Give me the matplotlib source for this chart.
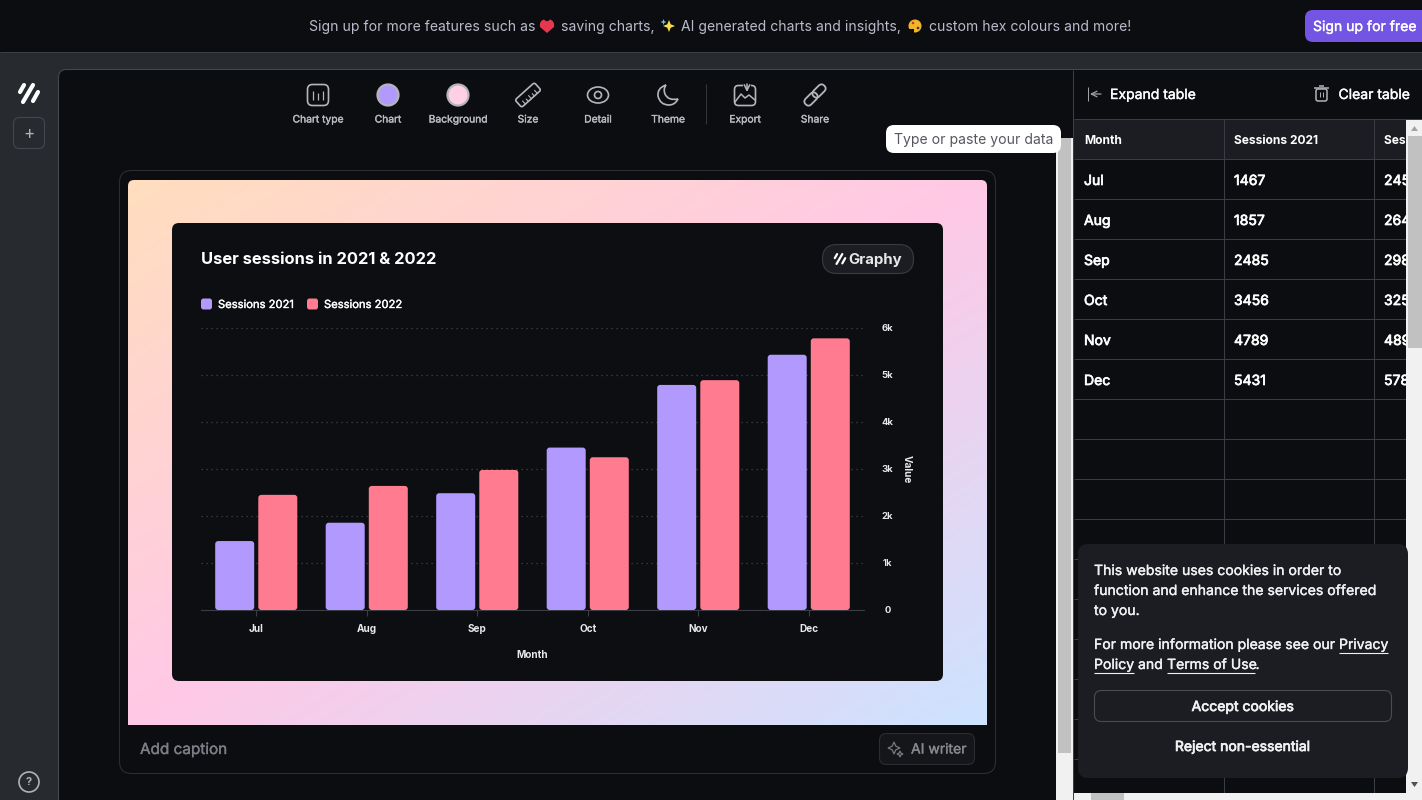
import numpy as np
import matplotlib
matplotlib.use('Agg')
import matplotlib.pyplot as plt
import matplotlib.patheffects as pe
from matplotlib.patches import FancyBboxPatch, Circle, Ellipse, Polygon, Rectangle, PathPatch
from matplotlib.path import Path
from matplotlib.transforms import Affine2D, ScaledTranslation

plt.rcParams['font.family'] = ['Inter', 'DejaVu Sans']

# chart data
months = ['Jul', 'Aug', 'Sep', 'Oct', 'Nov', 'Dec']
sessions_2021 = [1467, 1857, 2485, 3456, 4789, 5431]
sessions_2022 = [2450, 2640, 2980, 3250, 4890, 5780]
ytick_vals = [0, 1000, 2000, 3000, 4000, 5000, 6000]
ytick_labels = ['0', '1k', '2k', '3k', '4k', '5k', '6k']
toolbar_items = ['Chart type', 'Chart', 'Background', 'Size', 'Detail', 'Theme', 'Export', 'Share']
toolbar_x = [318, 388, 458, 528, 598, 668, 745, 815]

BG = '#0c0d11'
SIDE = '#272a2f'
PANEL = '#1c1d22'
LINE = '#3a3d43'
PURPLE = '#b299fe'
PINK = '#ff7b8f'

fig = plt.figure(figsize=(14.22, 8), dpi=100, facecolor=BG)
ui = fig.add_axes([0, 0, 1, 1], zorder=1)
ui.set_xlim(0, 1422)
ui.set_ylim(800, 0)
ui.axis('off')


def px(size):
    return size*0.72


def rr(x0, y0, x1, y1, r, fc='none', ec='none', lw=0.8, z=2):
    p = FancyBboxPatch((x0, y0), x1-x0, y1-y0, boxstyle='round,pad=0,rounding_size=%g' % r,
                       fc=fc, ec=ec, lw=lw, zorder=z)
    ui.add_patch(p)
    return p


def txt(x, y, s, size=14, color='white', weight='normal', ha='left', z=6, **kw):
    # only regular and bold exist, so the in-between weights get a thin stroke
    stroke = {'medium': 0.25, 'semibold': 0.5}.get(weight)
    t = ui.text(x, y+2, s, fontsize=px(size), color=color, fontweight='normal' if stroke else weight,
                ha=ha, va='center', zorder=z, **kw)
    if stroke:
        t.set_path_effects([pe.withStroke(linewidth=stroke, foreground=color)])
    return t


def hline(x0, x1, y, color=LINE, lw=0.72, z=3):
    ui.plot([x0, x1], [y, y], color=color, lw=lw, zorder=z, solid_capstyle='butt')


def vline(x, y0, y1, color=LINE, lw=0.72, z=3):
    ui.plot([x, x], [y0, y1], color=color, lw=lw, zorder=z, solid_capstyle='butt')


def logo(cx, cy, s, lw, color='white', z=6):
    for x0, y0, x1, y1 in ((-9, -1.5, -5, -8.5), (-6, 8.5, 4, -8.5), (4, 7.5, 9, -1.5)):
        ui.plot([cx+x0*s, cx+x1*s], [cy+y0*s, cy+y1*s], color=color, lw=lw, solid_capstyle='round', zorder=z)


# page shell
ui.add_patch(Rectangle((0, 52), 1422, 748, fc=SIDE, ec='none', zorder=0))
hline(0, 1422, 52, color='#3c3f45')
rr(58.5, 69.5, 1500, 900, 8, fc=BG, ec='#44474d', z=1)

# banner
bc = '#b9bbcb'
txt(309, 25, 'Sign up for more features such as', 14, bc)
txt(561, 25, 'saving charts,', 14, bc)
txt(681, 25, 'AI generated charts and insights,', 14, bc)
txt(929, 25, 'custom hex colours and more!', 14, bc)
heart = Path([(547, 33), (540, 27), (539, 21), (544, 19.5), (547, 23), (550, 19.5), (555, 21), (554, 27), (547, 33)],
             [Path.MOVETO, Path.LINETO, Path.CURVE3, Path.CURVE3, Path.CURVE3, Path.CURVE3, Path.CURVE3, Path.LINETO, Path.LINETO])
ui.add_patch(PathPatch(heart, fc='#e5384f', ec='none', zorder=5))
ui.add_patch(Polygon([(669, 20), (670.7, 24.3), (675, 26), (670.7, 27.7), (669, 32), (667.3, 27.7), (663, 26), (667.3, 24.3)],
                     fc='#f7e04a', ec='none', zorder=5))
ui.add_patch(Polygon([(663.5, 19), (664.3, 21.2), (666.5, 22), (664.3, 22.8), (663.5, 25), (662.7, 22.8), (660.5, 22), (662.7, 21.2)],
                     fc='#6fc4e8', ec='none', zorder=5))
ui.add_patch(Circle((915, 26), 6.5, fc='#f2b52a', ec='none', zorder=5))
ui.add_patch(Rectangle((909, 29), 5, 4, fc=BG, ec='none', zorder=5))
ui.add_patch(Circle((913, 23), 1.3, fc='#c9382c', ec='none', zorder=6))
ui.add_patch(Circle((918, 28), 1.3, fc='#3a3a3a', ec='none', zorder=6))
rr(1305, 10, 1440, 42, 8, fc='#7256e3', z=3)
txt(1313, 25, 'Sign up for free', 14, 'white', 'medium')

# sidebar
logo(29, 93.5, 1, 3)
rr(13.5, 117.5, 44.5, 148.5, 6, ec='#44474d')
txt(29, 132, '+', 17, '#b0b2b8', ha='center')
ui.add_patch(Circle((29, 782), 10, fc='none', ec='#b0b2b8', lw=1.2, zorder=4))
txt(29, 780, '?', 11, '#b0b2b8', 'bold', ha='center')

# toolbar
ic = '#b4b6bc'
for name, x in zip(toolbar_items, toolbar_x):
    txt(x, 117.5, name, 10.3, '#b8bac0', 'medium', ha='center')
rr(307.5, 84.5, 328.5, 105.5, 5, ec=ic, lw=1.2)
for bx, y0 in zip((313, 318, 323), (91, 93, 91)):
    vline(bx, y0, 100, color=ic, lw=0.9)
ui.add_patch(Circle((388, 95), 10.5, fc=PURPLE, ec=ic, lw=1.6, zorder=4))
ui.add_patch(Circle((458, 95), 10.5, fc='#ffcfe6', ec=ic, lw=1.6, zorder=4))
rot = Affine2D().rotate_deg_around(528, 95, -42)+ui.transData
ruler = FancyBboxPatch((515, 90), 26, 10, boxstyle='round,pad=0,rounding_size=2', fc='none', ec=ic, lw=1.2, zorder=4)
ruler.set_transform(rot)
ui.add_patch(ruler)
for tx, tl in zip((520, 524, 528, 532, 536), (4, 3, 4, 3, 4)):
    ui.plot([tx, tx], [100, 100-tl], color=ic, lw=0.8, zorder=4, transform=rot)
ui.add_patch(Ellipse((598, 95), 21, 16, fc='none', ec=ic, lw=1.2, zorder=4))
ui.add_patch(Circle((598, 95), 3.5, fc='none', ec=ic, lw=1.2, zorder=4))
moon = Path([(666, 85), (657, 88), (658, 96), (660, 105), (669, 105), (675, 105), (678, 99), (668, 101), (665, 94), (663, 89), (666, 85)],
            [Path.MOVETO]+[Path.CURVE3]*10)
ui.add_patch(PathPatch(moon, fc='none', ec=ic, lw=1.2, zorder=4))
vline(706, 84, 124, color='#33363b')
rr(734.5, 85.5, 755.5, 105.5, 4, ec=ic, lw=1.2)
ui.plot([735, 741, 745, 749, 755], [102, 94, 98, 95, 100], color=ic, lw=1.1, zorder=4)
ui.add_patch(Rectangle((743, 83), 8, 8, fc=BG, ec='none', zorder=4))
ui.annotate('', xy=(747, 92), xytext=(747, 84), arrowprops=dict(arrowstyle='->', color=ic, lw=1.1, shrinkA=0, shrinkB=0), zorder=5)
for (lx, ly) in ((819, 91), (811, 99)):
    link = FancyBboxPatch((lx-7.5, ly-4), 15, 8, boxstyle='round,pad=0,rounding_size=4', fc='none', ec=ic, lw=1.3, zorder=4)
    link.set_transform(Affine2D().rotate_deg_around(lx, ly, -45)+ui.transData)
    ui.add_patch(link)

# gradient background of the card
rr(119.5, 170.5, 995.5, 773.5, 12, ec='#2b2d32')
frame = rr(128, 180, 987, 760, 6)
u, v = np.meshgrid(np.linspace(0, 1, 300), np.linspace(0, 1, 200))
t = (u+v)/2
stops = np.array([[255, 222, 190], [255, 201, 230], [204, 227, 255]])/255.
grad = np.dstack([np.interp(t, [0, .5, 1], stops[:, i]) for i in range(3)])
im = ui.imshow(grad, extent=(128, 987, 725, 180), aspect='auto', zorder=2, interpolation='bilinear')
im.set_clip_path(frame)
ui.set_xlim(0, 1422)
ui.set_ylim(800, 0)
rr(172, 223, 943, 681, 7, fc='#0c0e12', z=3)

txt(201, 258, 'User sessions in 2021 & 2022', 16.5, 'white', 'bold')
rr(201, 298.5, 212, 309.5, 2.5, fc=PURPLE, z=4)
txt(218, 303, 'Sessions 2021', 11.2, 'white', 'medium')
rr(307, 298.5, 318, 309.5, 2.5, fc=PINK, z=4)
txt(324, 303, 'Sessions 2022', 11.2, 'white', 'medium')
rr(822.5, 244.5, 913.5, 273.5, 14.5, fc=PANEL, ec='#3a3c42', z=4)
logo(840, 259, 0.58, 1.6)
txt(848, 258, 'Graphy', 15, '#e8e8ea', 'bold')

# the chart
ax = fig.add_axes([201/1422, 1-610/800, (864-201)/1422, (610-328)/800], zorder=5)
ax.patch.set_alpha(0)
xpos = np.arange(len(months))
bw, off = 0.353, 0.195
bars_a = ax.bar(xpos-off, sessions_2021, bw, color=PURPLE, zorder=3)
bars_b = ax.bar(xpos+off, sessions_2022, bw, color=PINK, zorder=3)
ax.set_xlim(-0.5, 5.5)
ax.set_ylim(0, 6000)
# swap square bars for rounded ones
xunit, yunit = 663/6., 282/6000.
rad = 3/xunit
for b in list(bars_a)+list(bars_b):
    ax.add_patch(FancyBboxPatch((b.get_x(), 0), b.get_width(), b.get_height(),
                                boxstyle='round,pad=0,rounding_size=%g' % rad,
                                mutation_aspect=xunit/yunit, fc=b.get_facecolor(), ec='none', zorder=3, clip_on=False))
    b.set_visible(False)
for s in ('top', 'left', 'right'):
    ax.spines[s].set_visible(False)
ax.spines['bottom'].set_color(LINE)
ax.spines['bottom'].set_linewidth(0.8)
ax.yaxis.tick_right()
ax.yaxis.set_label_position('right')
ax.set_yticks(ytick_vals)
ax.set_yticklabels(ytick_labels, fontsize=px(9.5), color='#e8e8ec', fontweight='bold', ha='center')
ax.tick_params(axis='y', length=0, pad=17)
for lab in ax.get_yticklabels():
    lab.set_transform(lab.get_transform()+ScaledTranslation(0, 0.4/100., fig.dpi_scale_trans))
ax.set_xticks(xpos)
ax.set_xticklabels(months, fontsize=px(10), color='#e8e8ec', fontweight='bold')
ax.tick_params(axis='x', length=4, width=0.8, color=LINE, pad=6.4)
ax.grid(axis='y', color='#41444c', linestyle=(0, (1, 3)), linewidth=0.9, zorder=1)
ax.set_axisbelow(True)
ax.set_xlabel('Month', fontsize=px(10), color='#e8e8ec', fontweight='bold', labelpad=11.4)
ax.set_ylabel('Value', fontsize=px(10), color='#e8e8ec', fontweight='bold', rotation=-90, va='center')
ax.yaxis.set_label_coords(1.0645, 0.5)

# caption row
txt(140, 747.5, 'Add caption', 15.3, '#7b7e84', 'medium')
rr(879.5, 733.5, 974.5, 764.5, 7, fc='#15161a', ec='#2b2d32')
for (sx, sy, sr) in ((894, 748, 6), (900, 754, 3)):
    ui.add_patch(Polygon([(sx, sy-sr), (sx+sr*.3, sy-sr*.3), (sx+sr, sy), (sx+sr*.3, sy+sr*.3),
                          (sx, sy+sr), (sx-sr*.3, sy+sr*.3), (sx-sr, sy), (sx-sr*.3, sy-sr*.3)],
                         fc='none', ec='#77797f', lw=0.9, zorder=5))
txt(911, 747.5, 'AI writer', 14, '#85878d', 'medium')

# table panel
ui.add_patch(Rectangle((1073, 70), 349, 730, fc=BG, ec='none', zorder=2))
vline(1073, 70, 800, color='#3c3f45')
vline(1088, 87, 101, color='#a0a2a8')
ui.annotate('', xy=(1090, 94), xytext=(1101, 94), arrowprops=dict(arrowstyle='->', color='#a0a2a8', lw=0.9, shrinkA=0, shrinkB=0), zorder=5)
txt(1110, 93, 'Expand table', 14, 'white', 'medium')
rr(1316, 89, 1327, 101, 2, ec='#b0b2b8', lw=1.1, z=5)
hline(1314, 1329, 88, color='#b0b2b8', lw=1.1, z=5)
hline(1319, 1324, 86, color='#b0b2b8', lw=1.1, z=5)
vline(1320, 92, 97, color='#b0b2b8', lw=0.7, z=5)
vline(1323, 92, 97, color='#b0b2b8', lw=0.7, z=5)
txt(1338.5, 93, 'Clear table', 14, 'white', 'medium')
ui.add_patch(Rectangle((1074, 119), 348, 40, fc=PANEL, ec='none', zorder=2))
for y in range(119, 800, 40):
    hline(1074, 1422, y)
vline(1224, 119, 800)
vline(1374, 119, 800)
txt(1084, 139, 'Month', 12, 'white', 'bold', z=4)
txt(1234, 139, 'Sessions 2021', 12, 'white', 'bold', z=4)
txt(1384, 139, 'Sessions 2022', 12, 'white', 'bold', z=4)
for i, (m, a, b) in enumerate(zip(months, sessions_2021, sessions_2022)):
    yy = 179+40*i
    txt(1084, yy, m, 14, 'white', 'semibold', z=4)
    txt(1234, yy, str(a), 14, 'white', 'semibold', z=4)
    txt(1384, yy, str(b), 14, 'white', 'semibold', z=4)

# scrollbars
ui.add_patch(Rectangle((1056, 138), 17, 662, fc='#f1f1f1', ec='none', zorder=7))
ui.add_patch(Rectangle((1058, 138), 13, 615, fc='#c1c1c1', ec='none', zorder=7))
ui.add_patch(Rectangle((1406, 120), 16, 680, fc='#f1f1f1', ec='none', zorder=7))
ui.add_patch(Rectangle((1408, 136), 14, 212, fc='#c1c1c1', ec='none', zorder=7))
ui.add_patch(Polygon([(1411, 131), (1418, 131), (1414.5, 126)], fc='#a3a3a3', ec='none', zorder=8))
ui.add_patch(Polygon([(1411, 782), (1418, 782), (1414.5, 787)], fc='#505050', ec='none', zorder=8))
ui.add_patch(Rectangle((1074, 793), 332, 7, fc='#f1f1f1', ec='none', zorder=7))
ui.add_patch(Rectangle((1091, 793), 33, 7, fc='#c1c1c1', ec='none', zorder=7))

# tooltip
rr(886, 125, 1061, 153, 8, fc='white', z=8)
txt(894, 138, 'Type or paste your data', 14, '#55585e', z=9)

# cookie box
rr(1078, 544, 1408, 778, 10, fc=PANEL, z=9)
cc = '#f2f2f4'
for y, s in ((569, 'This website uses cookies in order to'),
             (589, 'function and enhance the services offered'),
             (609, 'to you.'),
             (643, 'For more information please see our'),
             (663, 'Policy')):
    txt(1094, y, s, 14.05, cc, 'medium', z=10)
txt(1339, 643, 'Privacy', 14.05, cc, 'medium', z=10)
txt(1138, 663, 'and', 14.05, cc, 'medium', z=10)
txt(1167, 663, 'Terms of Use', 14.05, cc, 'medium', z=10)
txt(1255.5, 663, '.', 14.05, cc, 'medium', z=10)
for x0, x1, y in ((1339, 1388, 653), (1094, 1134, 673), (1167, 1255, 673)):
    hline(x0, x1, y, color=cc, lw=0.8, z=10)
rr(1094.5, 690.5, 1391.5, 721.5, 7, ec='#4a4c52', z=10)
txt(1243, 705, 'Accept cookies', 14, cc, 'semibold', ha='center', z=10)
txt(1243, 745, 'Reject non-essential', 14, cc, 'semibold', ha='center', z=10)

fig.savefig('out.png', dpi=100, facecolor=BG)
